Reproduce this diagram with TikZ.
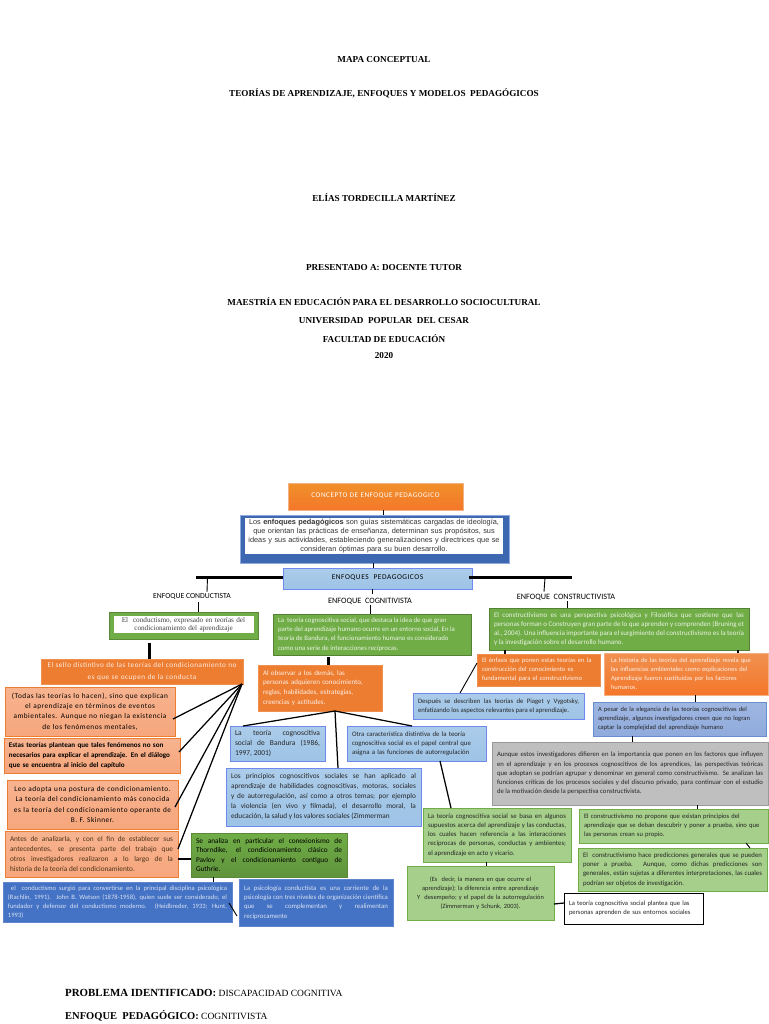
\documentclass[tikz,border=0pt]{standalone}
\usepackage{fontspec}
\setmainfont{Liberation Serif}
\setsansfont{Carlito}
\newfontfamily\arialfont{Liberation Sans}
\usetikzlibrary{positioning}
\hyphenpenalty=10000
\exhyphenpenalty=10000

\definecolor{naranja}{HTML}{ED7D31}
\definecolor{naranjab}{HTML}{F4772A}
\definecolor{salmon}{HTML}{F6A67C}
\definecolor{verde}{HTML}{70AD47}
\definecolor{verdec}{HTML}{A5CF8A}
\definecolor{celeste}{HTML}{9DC3E6}
\definecolor{azul}{HTML}{4472C4}
\definecolor{lila}{HTML}{8FAADC}
\definecolor{gris}{HTML}{BFBFBF}
\definecolor{tinta}{HTML}{262626}
\newcommand{\ancho}[1]{\sffamily\fontsize{#1}{10.4}\selectfont\addfontfeature{LetterSpace=7}}

\begin{document}
\begin{tikzpicture}[x=1pt,y=-1pt,
    caja/.style 2 args={anchor=north west,outer sep=0pt,inner xsep=5pt,inner ysep=1pt,
       minimum width=#1,minimum height=#2,text width={#1-10pt},align=justify,
       text=tinta,font=\sffamily\fontsize{6.6}{9.2}\selectfont},
    titulo/.style={font=\bfseries\fontsize{9.15}{11}\selectfont,inner sep=0pt},
    rama/.style={font=\sffamily\fontsize{7.7}{9}\selectfont,inner sep=0pt},
    pie/.style={anchor=west,inner sep=0pt,font=\fontsize{9.5}{11}\selectfont},
    naranjo/.style={fill=naranja,draw=naranja!85!white,text=white!88!naranja},
    salmonado/.style={top color=salmon!85!white,bottom color=salmon,draw=naranja,line width=.6pt},
    verdoso/.style={fill=verde,draw=verde!75!black,line width=.5pt,text=white!85!verde},
    verdecito/.style={fill=verdec,draw=verde,line width=.6pt},
    azulado/.style={top color=celeste!85!white,bottom color=celeste,draw=celeste!70!blue,line width=.6pt},
    azulon/.style={fill=azul,draw=azul!85!white,line width=.5pt,text=white!80!azul},
    lnk/.style={draw=black,line width=.9pt},
    lnkb/.style={draw=black,line width=1.25pt},
    grueso/.style={draw=black,line width=3pt},
    barra/.style={draw=black,line width=3.6pt}]
   \useasboundingbox (0,0) rectangle (768,1024);

   % portada
   \node[titulo] (t_1) at (384,59.5) {MAPA CONCEPTUAL};
   \node[titulo] (t_2) at (384,93) {TEORÍAS DE APRENDIZAJE, ENFOQUES Y MODELOS\ \ PEDAGÓGICOS};
   \node[titulo] (t_3) at (384,198) {ELÍAS TORDECILLA MARTÍNEZ};
   \node[titulo] (t_4) at (384,268) {PRESENTADO A: DOCENTE TUTOR};
   \node[titulo] (t_5) at (384,302) {MAESTRÍA EN EDUCACIÓN PARA EL DESARROLLO SOCIOCULTURAL};
   \node[titulo] (t_6) at (384,321) {UNIVERSIDAD\ \ POPULAR\ \ DEL CESAR};
   \node[titulo] (t_7) at (384,339) {FACULTAD DE EDUCACIÓN};
   \node[titulo] (t_8) at (384,356) {2020};

   % parte de arriba
   \node[caja={175pt}{27pt},top color=naranja!85!yellow,bottom color=naranjab,draw=naranja!60!white,
      align=center,text=white,font=\ancho{7.2}] (con_0) at (288,483) {\raisebox{3pt}{CONCEPTO DE ENFOQUE PEDAGOGICO}};
   \node[caja={269pt}{48pt},fill=azul!90!black,draw=azul!60!white] (def_o) at (240,515) {};
   \node[caja={258pt}{35pt},fill=white,inner xsep=-6pt,text width=270pt,align=center,text=black!80,
      font=\arialfont\fontsize{7.35}{9}\selectfont] (def_i) at (245,518)
      {Los \textbf{enfoques pedagógicos} son guías sistemáticas cargadas de ideología,\\
       que orientan las prácticas de enseñanza, determinan sus propósitos, sus\\
       ideas y sus actividades, estableciendo generalizaciones y directrices que se\\
       consideran óptimas para su buen desarrollo.};
   \node[caja={189pt}{21pt},azulado,align=center,text=black,font=\ancho{7.4}] (ped) at (283,568) {\raisebox{2pt}{ENFOQUES\ \ PEDAGOGICOS}};
   \coordinate (bar_l) at (196,577.5);
   \coordinate (bar_r) at (572,577.5);
   \coordinate (bar_a) at (207.5,577.5);
   \coordinate (bar_b) at (545,577.5);
   \node[rama] (lab_con) at (192,597) {ENFOQUE CONDUCTISTA};
   \node[rama,font=\sffamily\fontsize{8.2}{9}\selectfont] (lab_cog) at (370,601) {ENFOQUE\ \ COGNITIVISTA};
   \node[rama,font=\sffamily\fontsize{8.2}{9}\selectfont] (lab_cons) at (566,597) {ENFOQUE\ \ CONSTRUCTIVISTA};

   % conductista
   \node[caja={149pt}{27pt},fill=verde,draw=verde!80!black] (con_o) at (109,612) {};
   \node[caja={140pt}{17pt},fill=white,inner xsep=1pt,text width=138pt,align=center,text=black!75,
      font=\fontsize{7.2}{8.4}\selectfont] (con_1) at (113.5,616)
      {El\ \ conductismo, expresado en teorías del\\ condicionamiento del aprendizaje};
   \node[caja={202pt}{25pt},naranjo,align=center,font=\sffamily\fontsize{7.2}{12.5}\selectfont\addfontfeature{LetterSpace=7}] (con_2) at (41,659)
      {El sello distintivo de las teorías del condicionamiento no\\ es que se ocupen de la conducta};
   \node[caja={170pt}{49pt},salmonado,align=center,text=black,font=\ancho{7.3}] (con_3) at (5,687)
      {(Todas las teorías lo hacen), sino que explican\\ el aprendizaje en términos de eventos\\
       ambientales. Aunque no niegan la existencia\\ de los fenómenos mentales,};
   \node[caja={176pt}{35pt},salmonado,align=left,text=black,font=\sffamily\bfseries\fontsize{7.1}{10.4}\selectfont] (con_4) at (4,738)
      {Estas teorías plantean que tales fenómenos no son\\ necesarios para explicar el aprendizaje. En el diálogo\\ que se encuentra al inicio del capítulo};
   \node[caja={171pt}{49pt},salmonado,align=center,text=black,font=\ancho{7.3}] (con_5) at (7,780)
      {Leo adopta una postura de condicionamiento.\\ La teoría del condicionamiento más conocida\\ es la teoría del condicionamiento operante de\\ B. F. Skinner.};
   \node[caja={173pt}{46pt},salmonado,text=black!60!brown,font=\sffamily\fontsize{7.3}{10.3}\selectfont] (con_6) at (5,831)
      {Antes de analizarla, y con el fin de establecer sus\linebreak antecedentes, se presenta parte del trabajo que\linebreak otros investigadores realizaron a lo largo de la\linebreak historia de la teoría del condicionamiento.};
   \node[caja={156pt}{44pt},fill=verde,draw=verde!80!black,top color=verde,bottom color=verde!85!black,text=black,font=\sffamily\fontsize{7.3}{9.6}\selectfont] (con_7) at (191,833)
      {Se analiza en particular el conexionismo de\linebreak Thorndike, el condicionamiento clásico de\linebreak Pavlov y el condicionamiento contiguo de\linebreak Guthrie.};
   \node[caja={229pt}{40pt},azulon,font=\sffamily\fontsize{6.6}{9}\selectfont] (con_8) at (3,882)
      {\ el\ \ conductismo surgió para convertirse en la principal disciplina psicológica\linebreak (Rachlin, 1991). John B. Watson (1878-1958), quien suele ser considerado, el\linebreak fundador y defensor del conductismo moderno. (Heidbreder, 1933; Hunt,\linebreak 1993)};
   \node[caja={154pt}{47pt},azulon,font=\sffamily\fontsize{6.8}{9.3}\selectfont] (con_9) at (239,879)
      {La psicología conductista es una corriente de la\linebreak psicología con tres niveles de organización científica\linebreak que se complementan y realimentan\linebreak recíprocamente};

   % cognitivista
   \node[caja={198pt}{41pt},verdoso,font=\sffamily\fontsize{6.8}{9.3}\selectfont] (cog_1) at (273,614)
      {La\ \ teoría cognoscitiva social, que destaca la idea de que gran\\ parte del aprendizaje humano ocurre en un entorno social, En la\\ teoría de Bandura, el funcionamiento humano es considerado\\ como una serie de interacciones recíprocas.};
   \node[caja={124pt}{46pt},naranjo,align=left,font=\sffamily\fontsize{7}{9.8}\selectfont] (cog_2) at (258,665)
      {Al observar a los demás, las\\ personas adquieren conocimiento,\\ reglas, habilidades, estrategias,\\ creencias y actitudes.};
   \node[caja={95pt}{35pt},azulado,font=\sffamily\fontsize{7.5}{10}\selectfont] (cog_3) at (230,726)
      {La teoría cognoscitiva\linebreak social de Bandura (1986,\linebreak 1997, 2001)};
   \node[caja={139pt}{35pt},azulado,align=left,font=\sffamily\fontsize{6.8}{9.1}\selectfont] (cog_4) at (347,726)
      {Otra característica distintiva de la teoría\\ cognoscitiva social es el papel central que\\ asigna a las funciones de autorregulación};
   \node[caja={195pt}{58pt},azulado,font=\sffamily\fontsize{7.3}{10}\selectfont] (cog_5) at (226,768)
      {Los principios cognoscitivos sociales se han aplicado al\linebreak aprendizaje de habilidades cognoscitivas, motoras, sociales\linebreak y de autorregulación, así como a otros temas; por ejemplo\linebreak la violencia (en vivo y filmada), el desarrollo moral, la\linebreak educación, la salud y los valores sociales (Zimmerman};
   \node[caja={148pt}{54pt},verdecito,font=\sffamily\fontsize{6.8}{9.2}\selectfont] (cog_6) at (423,808)
      {La teoría cognoscitiva social se basa en algunos\linebreak supuestos acerca del aprendizaje y las conductas,\linebreak los cuales hacen referencia a las interacciones\linebreak recíprocas de personas, conductas y ambientes;\linebreak el aprendizaje en acto y vicario.};
   \node[caja={147pt}{54pt},verdecito,align=center,font=\sffamily\fontsize{6.4}{9.1}\selectfont] (cog_7) at (407,866)
      {(Es\ \ decir, la manera en que ocurre el\\ aprendizaje); la diferencia entre aprendizaje\\ Y\ \ desempeño; y el papel de la autorregulación\\ (Zimmerman y Schunk, 2003).};
   \node[caja={139pt}{31pt},fill=white,draw=black,line width=.7pt,align=left] (cog_8) at (564,893)
      {La teoría cognoscitiva social plantea que las\\ personas aprenden de sus entornos sociales};

   % constructivista
   \node[caja={260pt}{42pt},verdoso,font=\sffamily\fontsize{7}{9}\selectfont] (cons_1) at (489,608)
      {El constructivismo es una perspectiva psicológica y Filosófica que sostiene que las\linebreak personas forman o Construyen gran parte de lo que aprenden y comprenden (Bruning et\linebreak al., 2004). Una influencia importante para el surgimiento del constructivismo es la teoría\linebreak y la investigación sobre el desarrollo humano.};
   \node[caja={123pt}{32pt},naranjo,align=left] (cons_2) at (477,654)
      {El énfasis que ponen estas teorías en la\\ construcción del conocimiento es\\ fundamental para el constructivismo};
   \node[caja={164pt}{42pt},inner xsep=7pt,text width=150pt,top color=naranja!85!white,bottom color=naranjab,draw=naranja!60!white,
      align=left,text=white!88!naranja,font=\sffamily\fontsize{6.5}{9.1}\selectfont] (cons_3) at (604,653)
      {La historia de las teorías del aprendizaje revela que\\ las influencias ambientales como explicaciones del\\ Aprendizaje fueron sustituidas por los factores\\ humanos.};
   \node[caja={171pt}{26pt},azulado,font=\sffamily\fontsize{6.7}{9}\selectfont] (cons_4) at (413,693)
      {Después se describen las teorías de Piaget y Vygotsky,\linebreak enfatizando los aspectos relevantes para el aprendizaje.};
   \node[caja={173pt}{34pt},top color=lila!85!white,bottom color=lila,draw=azul!80!white,line width=.6pt,align=left,font=\sffamily\fontsize{6.5}{9.2}\selectfont] (cons_5) at (593,702)
      {A pesar de la elegancia de las teorías cognoscitivas del\\ aprendizaje, algunos investigadores creen que no logran\\ captar la complejidad del aprendizaje humano};
   \node[caja={276pt}{63pt},fill=gris,draw=gris!80!black,line width=.6pt,font=\sffamily\fontsize{6.7}{9.2}\selectfont] (cons_6) at (492,742)
      {Aunque estos investigadores difieren en la importancia que ponen en los factores que influyen\linebreak en el aprendizaje y en los procesos cognoscitivos de los aprendices, las perspectivas teóricas\linebreak que adoptan se podrían agrupar y denominar en general como constructivismo. Se analizan las\linebreak funciones críticas de los procesos sociales y del discurso privado, para continuar con el estudio\linebreak de la motivación desde la perspectiva constructivista.};
   \node[caja={189pt}{34pt},verdecito,align=left] (cons_7) at (579,809)
      {El constructivismo no propone que existan principios del\\ aprendizaje que se deban descubrir y poner a prueba, sino que\\ las personas crean su propio.};
   \node[caja={189pt}{43pt},verdecito,font=\sffamily\fontsize{6.8}{9.2}\selectfont] (cons_8) at (578,848)
      {El\ \ constructivismo hace predicciones generales que se pueden\linebreak poner a prueba. Aunque, como dichas predicciones son\linebreak generales, están sujetas a diferentes interpretaciones, las cuales\linebreak podrían ser objetos de investigación.};

   % pie
   \node[pie] (p_1) at (65,993) {\textbf{\fontsize{10.9}{12}\selectfont PROBLEMA IDENTIFICADO:} DISCAPACIDAD COGNITIVA};
   \node[pie] (p_2) at (65,1016) {\textbf{\fontsize{10.5}{12}\selectfont ENFOQUE\ \ PEDAGÓGICO:} COGNITIVISTA};

   % conectores
   \draw[lnk] ([xshift=8pt]con_0.south) -- ([xshift=9pt]def_o.north);
   \draw[lnk] ([xshift=-1.5pt]def_o.south) -- ([xshift=-4.5pt]ped.north);
   \draw[barra] ([yshift=1pt]ped.west) -- (bar_l);
   \draw[barra] ([xshift=-3pt,yshift=1pt]ped.east) -- (bar_r);
   \draw[lnk] (bar_a) -- ([xshift=15pt,yshift=2pt]lab_con.north);
   \draw[lnk] (bar_b) -- ([xshift=-22pt,yshift=2pt]lab_cons.north);
   \draw[lnk] ([xshift=-5pt]ped.south) -- ([xshift=2.5pt,yshift=4pt]lab_cog.north);
   \draw[lnk] ([xshift=6pt,yshift=-2pt]lab_con.south) -- ([xshift=14.5pt]con_o.north);
   \draw[lnk] ([yshift=-1pt]lab_cog.south) -- ([xshift=-2pt]cog_1.north);
   \draw[lnk] ([xshift=1pt,yshift=-1pt]lab_cons.south) -- ([xshift=-52pt]cons_1.north);
   \draw[grueso] ([xshift=-34.5pt,yshift=-4pt]con_o.south) -- ([xshift=7pt]con_2.north);
   \draw[lnkb] ([xshift=-1pt]con_2.south east) -- ([xshift=-2pt,yshift=-7.5pt]con_3.east);
   \draw[lnkb] ([xshift=-1pt]con_2.south east) -- ([xshift=-1pt,yshift=3.5pt]con_4.east);
   \draw[lnkb] ([xshift=-1pt]con_2.south east) -- ([xshift=-3pt,yshift=-2.5pt]con_5.east);
   \draw[lnkb] ([xshift=-1pt]con_2.south east) -- ([yshift=5pt]con_6.east);
   \draw[grueso,line width=1.6pt] ([yshift=-5pt]con_6.east) -- ([yshift=-4pt]con_7.west);
   \draw[lnk] ([xshift=-56pt]con_7.south) -- ([xshift=95.5pt]con_8.north);
   \draw[lnk] ([xshift=-3pt,yshift=-1pt]con_8.east) -- ([xshift=-2pt,yshift=-13.5pt]con_9.west);
   \draw[grueso] ([xshift=-44pt,yshift=-2pt]cog_1.south) -- ([xshift=8pt]cog_2.north);
   \draw[lnkb] ([xshift=15pt]cog_2.south) -- ([xshift=-34.5pt]cog_3.north);
   \draw[lnkb] ([xshift=15pt]cog_2.south) -- ([xshift=14.5pt]cog_5.north);
   \draw[lnkb] ([xshift=15pt]cog_2.south) -- ([xshift=-4.5pt]cog_4.north);
   \draw[lnkb] ([xshift=23.5pt]cog_4.south) -- ([xshift=-46pt]cog_6.north);
   \draw[lnk] ([xshift=-11pt]cog_6.south) -- ([xshift=5.5pt]cog_7.north);
   \draw[lnkb] ([yshift=-11pt]cog_7.east) -- ([yshift=5.5pt]cog_8.west);
   \draw[lnkb] ([xshift=-114pt]cons_1.south) -- ([xshift=-33.5pt]cons_2.north);
   \draw[lnkb] ([xshift=119pt]cons_1.south) -- ([xshift=52pt]cons_3.north);
   \draw[lnk] ([yshift=7pt]cons_2.west) -- ([xshift=-38.5pt]cons_4.north);
   \draw[lnk] ([xshift=9pt]cons_3.south) -- ([xshift=15.5pt]cons_5.north);
   \draw[lnk] ([xshift=-47.5pt]cons_5.south) -- ([xshift=2pt]cons_6.north);
   \draw[lnk] ([xshift=67pt]cons_6.south) -- ([xshift=23.5pt]cons_7.north);
   \draw[lnk] ([xshift=72.5pt]cons_7.south) -- ([xshift=77.5pt]cons_8.north);
\end{tikzpicture}
\end{document}
